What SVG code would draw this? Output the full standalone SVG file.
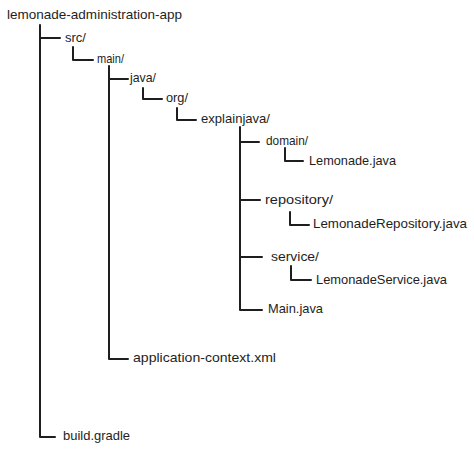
<svg xmlns="http://www.w3.org/2000/svg" width="474" height="449" viewBox="0 0 474 449">
<style>
text{font-family:"Liberation Sans","Noto Sans",sans-serif;font-size:13px;fill:#1e1e1e}
.c{fill:none;stroke:#1e1e1e;stroke-width:2;stroke-linecap:round;stroke-linejoin:round}
</style>
<rect width="474" height="449" fill="#ffffff"/>
<g id="connectors">
<path class="c" d="M40,25 V437 H55"/>
<path class="c" d="M40,38 H60"/>
<path class="c" d="M73,47 V60 H93"/>
<path class="c" d="M109,66 V359 H128"/>
<path class="c" d="M109,79 H128"/>
<path class="c" d="M143,88 V99 H162"/>
<path class="c" d="M177,108 V120 H196"/>
<path class="c" d="M240,127 V310 H262"/>
<path class="c" d="M240,142 H259"/>
<path class="c" d="M285,148 V161 H303"/>
<path class="c" d="M240,200 H260"/>
<path class="c" d="M290,212 V225 H309"/>
<path class="c" d="M240,257 H262"/>
<path class="c" d="M291,266 V280 H311"/>
</g>
<g id="root"><text x="7" y="19" textLength="175" lengthAdjust="spacingAndGlyphs">lemonade-administration-app</text></g>
<g id="src"><text x="65" y="42" textLength="21" lengthAdjust="spacingAndGlyphs">src/</text></g>
<g id="main"><text x="97" y="63" textLength="27" lengthAdjust="spacingAndGlyphs">main/</text></g>
<g id="java"><text x="130" y="82" textLength="26" lengthAdjust="spacingAndGlyphs">java/</text></g>
<g id="org"><text x="166" y="102" textLength="22" lengthAdjust="spacingAndGlyphs">org/</text></g>
<g id="explainjava"><text x="201" y="123" textLength="69" lengthAdjust="spacingAndGlyphs">explainjava/</text></g>
<g id="domain"><text x="266" y="145" textLength="42" lengthAdjust="spacingAndGlyphs">domain/</text></g>
<g id="lemonade"><text x="309" y="165" textLength="87" lengthAdjust="spacingAndGlyphs">Lemonade.java</text></g>
<g id="repository"><text x="265" y="204" textLength="68" lengthAdjust="spacingAndGlyphs">repository/</text></g>
<g id="lemonade-repository"><text x="313" y="228" textLength="154" lengthAdjust="spacingAndGlyphs">LemonadeRepository.java</text></g>
<g id="service"><text x="271" y="261" textLength="48" lengthAdjust="spacingAndGlyphs">service/</text></g>
<g id="lemonade-service"><text x="316" y="284" textLength="131" lengthAdjust="spacingAndGlyphs">LemonadeService.java</text></g>
<g id="main-java"><text x="268" y="313" textLength="55" lengthAdjust="spacingAndGlyphs">Main.java</text></g>
<g id="application-context"><text x="133" y="362" textLength="143" lengthAdjust="spacingAndGlyphs">application-context.xml</text></g>
<g id="build-gradle"><text x="63" y="440" textLength="67" lengthAdjust="spacingAndGlyphs">build.gradle</text></g>
</svg>
